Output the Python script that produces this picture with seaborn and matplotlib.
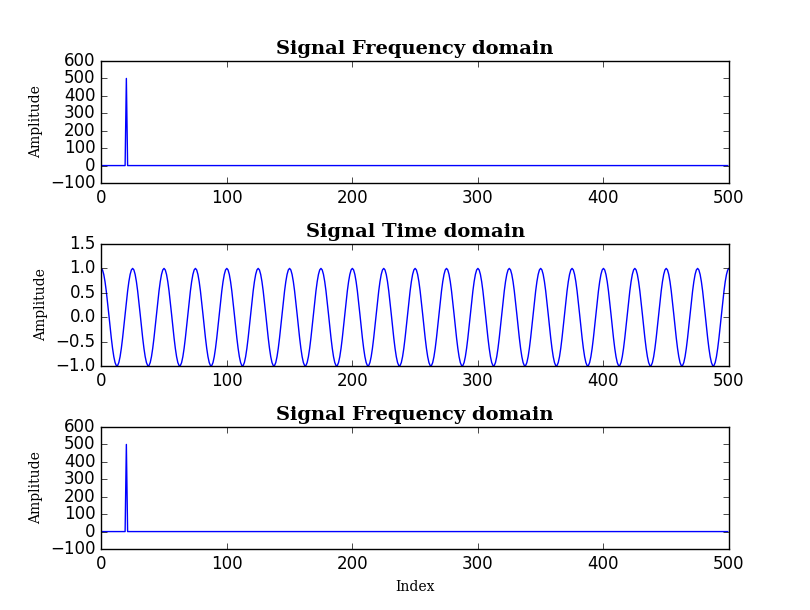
import numpy as np
import pandas as pd
import seaborn as sns
import matplotlib
matplotlib.use("Agg")
import matplotlib.pyplot as plt

plt.style.use("classic")

# signal parameters
n_samples = 501
period = 25          # samples per cycle
peak_index = 20      # bin of the spectral peak
peak_value = 500     # amplitude of the spectral peak

index = np.arange(n_samples)
signal = np.cos(2 * np.pi * index / period)
spectrum = np.zeros(n_samples)
spectrum[peak_index] = peak_value

df_time = pd.DataFrame({"Index": index, "Amplitude": signal})
df_freq = pd.DataFrame({"Index": index[:500], "Amplitude": spectrum[:500]})

fig, axes = plt.subplots(3, 1, figsize=(8.1, 6.1), dpi=100)
fig.patch.set_facecolor("white")

titulos = ["Signal Frequency domain", "Signal Time domain", "Signal Frequency domain"]
dados = [df_freq, df_time, df_freq]
limites = [(-100, 600), (-1.0, 1.5), (-100, 600)]

for ax, titulo, d, lim in zip(axes, titulos, dados, limites):
    sns.lineplot(data=d, x="Index", y="Amplitude", ax=ax, color="blue", linewidth=1)
    ax.set_title(titulo, fontfamily="DejaVu Serif", fontweight="bold", fontsize=14)
    ax.set_ylabel("Amplitude", fontfamily="DejaVu Serif", fontsize=10)
    ax.set_xlabel("")
    ax.set_xlim(0, 500)
    ax.set_ylim(*lim)

axes[2].set_xlabel("Index", fontfamily="DejaVu Serif", fontsize=10)

plt.subplots_adjust(left=0.125, right=0.9, top=0.9, bottom=0.1, hspace=0.5)
plt.savefig("out.png", dpi=100, facecolor="white")
